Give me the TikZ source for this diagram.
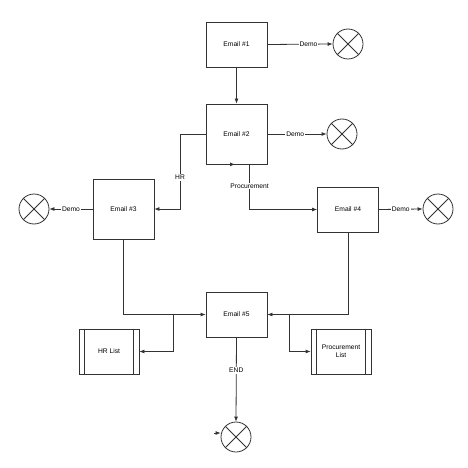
\documentclass[tikz,border=0pt]{standalone}
\usepackage{fontspec}
\setmainfont{Liberation Sans}
\usetikzlibrary{arrows.meta,calc}
\begin{document}
\begin{tikzpicture}[x=1pt,y=-1pt,
  every node/.style={font=\fontsize{6.7}{8}\selectfont},
  line/.style={draw=black!80,line width=0.8pt},
  arr/.style={line,-{Latex[length=5pt,width=4pt]}},
  ebox/.style={line,rectangle,minimum width=61pt,minimum height=#1,inner sep=0pt},
  ebox/.default=45pt,
  endc/.style={line,circle,minimum size=30pt,inner sep=0pt},
  lbl/.style={fill=white,inner sep=1pt},
  lst/.style={line,rectangle,minimum width=60pt,minimum height=45pt,inner sep=0pt,align=center}
]
\useasboundingbox (0,0) rectangle (468,468);
\fill[white] (0,0) rectangle (468,468);

\node[ebox] (e1) at (236.5,44.5) {Email \#1};
\node[ebox=60pt] (e2) at (236.5,134) {Email \#2};
\node[ebox=60pt] (e3) at (123.5,209) {Email \#3};
\node[ebox] (e4) at (348,209.5) {Email \#4};
\node[ebox] (e5) at (236.5,314.5) {Email \#5};

\node[lst] (hr) at (109,351.5) {HR List};
\node[lst] (pl) at (341,351.5) {Procurement\\List};
\foreach \n in {hr,pl}{
  \draw[line] ($(\n.north west)+(6,0)$) -- ($(\n.south west)+(6,0)$);
  \draw[line] ($(\n.north east)+(-6,0)$) -- ($(\n.south east)+(-6,0)$);
}

\node[endc] (c1) at (348,44) {};
\node[endc] (c2) at (342,134) {};
\node[endc] (c3) at (34,209) {};
\node[endc] (c4) at (438,209) {};
\node[endc] (c5) at (236,437) {};
\foreach \c in {c1,c2,c3,c4,c5}{
  \draw[line] (\c.45) -- (\c.225);
  \draw[line] (\c.135) -- (\c.315);
}

\draw[arr] (e1) -- (e2);
\draw[arr] (e1.east) -- node[lbl,pos=0.63]{Demo} (c1.west);
\draw[arr] (e2.east) -- node[lbl,pos=0.47]{Demo} (c2.west);
\draw[arr] (e3.west) -- node[lbl]{Demo} (c3.east);
\draw[arr] (e4.east) -- node[lbl]{Demo} (c4.west);

\coordinate (hrk) at (180,209);
\draw[arr] (e2.west) -| node[lbl,pos=0.79]{HR} (hrk) -- (e3.east);
\coordinate (pk) at (249.5,164);
\draw[arr] (pk) |- node[lbl,pos=0.24]{Procurement} (e4.west);

\draw[arr] (e3.south) |- (e5.west);
\draw[arr] (e4.south) |- (e5.east);
\coordinate (j1) at (173,314.5);
\coordinate (j2) at (289,314.5);
\draw[arr] (j1) |- (hr.east);
\draw[arr] (j2) |- (pl.west);

\draw[arr] (e5.south) -- node[lbl,pos=0.39]{END} (c5.north);

\draw[arr] ($(e2.south)+(-8,0)$) -- ($(e2.south)+(-1.5,0)$);
\draw[arr] ($(c5.west)+(-7,-4)$) -- ($(c5.west)+(0,-4)$);
\end{tikzpicture}
\end{document}
